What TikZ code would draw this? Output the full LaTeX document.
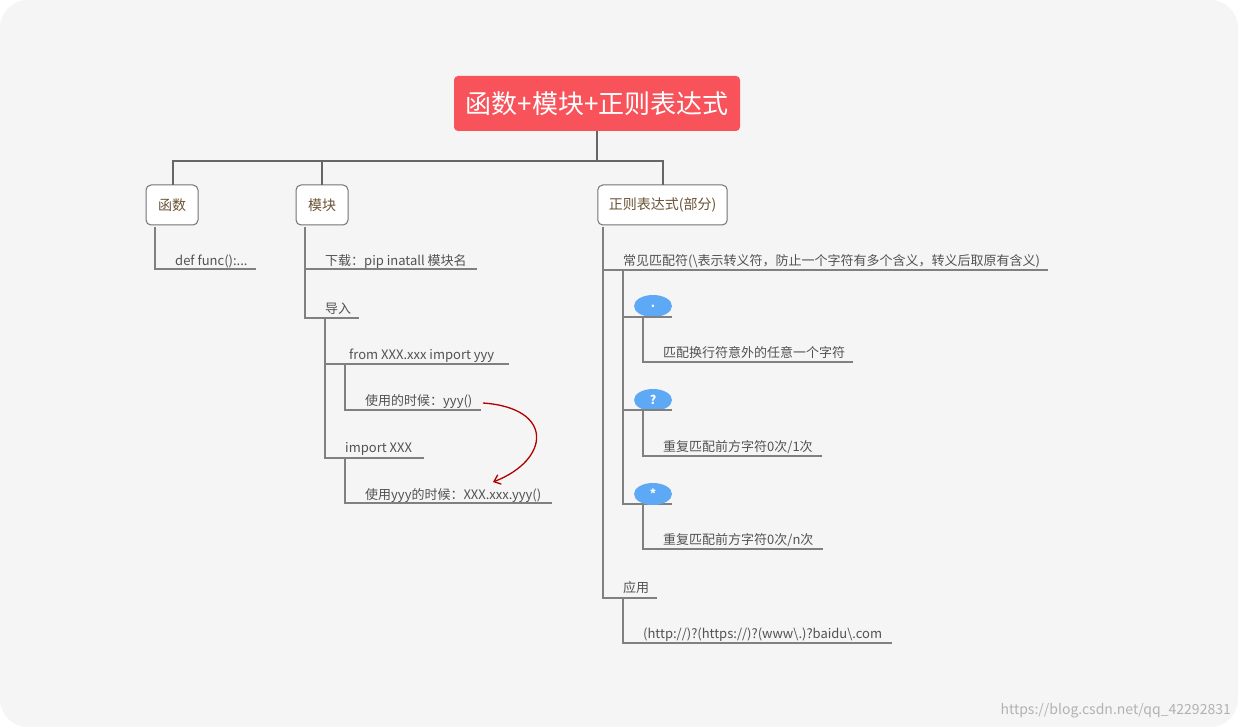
\documentclass[tikz,border=0pt]{standalone}
\usepackage{fontspec}
\usetikzlibrary{arrows.meta,shapes.geometric}
\setmainfont{Noto Sans CJK SC}
\definecolor{ellc}{HTML}{5EA9F5}
\definecolor{rootc}{HTML}{F8525A}
\definecolor{boxt}{HTML}{6B5235}
\begin{document}
\begin{tikzpicture}[x=1pt,y=-1pt,
  txt/.style={anchor=base west,inner sep=0pt,text=black!68,font=\fontsize{13}{14}\selectfont},
  ln/.style={draw=black!50,line width=1.4pt},
  bar/.style={draw=black!60,line width=2.4pt},
  box/.style={draw=black!55,fill=white,rounded corners=5pt,line width=1pt,text=boxt,font=\fontsize{14}{16}\selectfont,minimum height=40pt,minimum width=52pt,inner xsep=11pt},
  ell/.style={ellipse,fill=ellc,minimum width=38pt,minimum height=22pt,inner sep=0pt,text=white,font=\bfseries\fontsize{12}{12}\selectfont}]
\useasboundingbox (0,0) rectangle (1238,727);
\fill[white] (0,0) rectangle (1238,727);
\fill[black!4,rounded corners=28pt] (0,0) rectangle (1238,727);
\node[fill=rootc,rounded corners=4pt,minimum width=286pt,minimum height=55pt,text=white,font=\fontsize{26}{28}\selectfont] (root) at (597,103.5) {函数+模块+正则表达式};
\node[box] (fn) at (172,205) {函数};
\node[box] (md) at (322,205) {模块};
\node[box] (re) at (662.5,205) {正则表达式(部分)};
\draw[bar] (root.south) -- (597,161);
\draw[bar] (173,185) -- (173,161) -- (663,161) -- (663,185);
\draw[bar] (322,161) -- (322,185);
% 函数
\node[txt] (f1) at (175,265) {def func():...};
\draw[ln] (155,227) -- (155,269) -- (256,269);
% 模块
\node[txt] (m1) at (325,265) {下载：pip inatall 模块名};
\node[txt] (m2) at (325,313) {导入};
\draw[ln] (305,227) -- (305,318) -- (359,318);
\draw[ln] (305,269) -- (477,269);
\node[txt] (m3) at (349,359) {from XXX.xxx import yyy};
\node[txt] (m4) at (365,405) {使用的时候：yyy()};
\node[txt] (m5) at (345,452) {import XXX};
\node[txt] (m6) at (365,499) {使用yyy的时候：XXX.xxx.yyy()};
\draw[ln] (325,318) -- (325,458) -- (424,458);
\draw[ln] (325,364) -- (509,364);
\draw[ln] (345,364) -- (345,410) -- (481,410);
\draw[ln] (345,458) -- (345,503) -- (552,503);
\draw[draw=red!70!black,line width=1.3pt,-{Straight Barb[length=6pt,width=10pt]}] (483,403) .. controls (555,408) and (550,460) .. (493,482);
% 正则
\node[txt] (r1) at (623,265) {常见匹配符(\textbackslash 表示转义符，防止一个字符有多个含义，转义后取原有含义)};
\draw[ln] (603,227) -- (603,598) -- (657,598);
\draw[ln] (603,270) -- (1048,270);
\draw[ln] (623,270) -- (623,504) -- (672,504);
\node[ell] (e1) at (653,306) {.};
\node[ell] (e2) at (653,400) {?};
\node[ell] (e3) at (653,494) {*};
\draw[ln] (623,317) -- (672,317);
\draw[ln] (623,410) -- (672,410);
\draw[ln] (643,317) -- (643,362) -- (853,362);
\draw[ln] (643,410) -- (643,456) -- (822,456);
\draw[ln] (643,504) -- (643,549) -- (823,549);
\node[txt] (r2) at (663,357) {匹配换行符意外的任意一个字符};
\node[txt] (r3) at (663,451) {重复匹配前方字符0次/1次};
\node[txt] (r4) at (663,544) {重复匹配前方字符0次/n次};
\node[txt] (r5) at (623,592) {应用};
\node[txt] (r6) at (643,638) {(http://)?(https://)?(www\textbackslash.)?baidu\textbackslash.com};
\draw[ln] (623,598) -- (623,643) -- (892,643);
\node[anchor=base east,inner sep=0pt,text=black!30,font=\fontsize{14}{14}\selectfont] (wm) at (1231,714) {https://blog.csdn.net/qq\_42292831};
\end{tikzpicture}
\end{document}
